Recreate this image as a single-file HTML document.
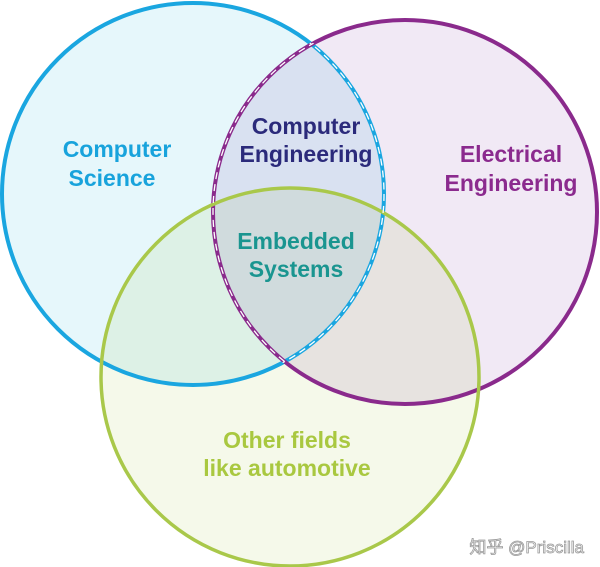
<!DOCTYPE html>
<html><head><style>body{margin:0;background:#fff}svg{display:block}</style></head><body>
<svg width="600" height="567" viewBox="0 0 600 567" xmlns="http://www.w3.org/2000/svg" font-family="Liberation Sans, sans-serif" font-weight="bold">
<defs>
<clipPath id="cs"><circle cx="193" cy="194" r="193"/></clipPath>
<clipPath id="ee"><circle cx="405" cy="212" r="194"/></clipPath>
</defs>
<rect width="600" height="567" fill="#fff"/>
<g>
<circle cx="193" cy="194" r="191" fill="#e6f7fb" style="mix-blend-mode:multiply"/>
<circle cx="405" cy="212" r="192" fill="#f1e9f5" style="mix-blend-mode:multiply"/>
<circle cx="290" cy="377" r="189" fill="#f5f9ea" style="mix-blend-mode:multiply"/>
</g>
<circle cx="193" cy="194" r="191" fill="none" stroke="#1aa6e0" stroke-width="4"/>
<circle cx="405" cy="212" r="192" fill="none" stroke="#8a2a8c" stroke-width="4"/>
<circle cx="290" cy="377" r="189" fill="none" stroke="#a9c84a" stroke-width="3.5"/>
<g clip-path="url(#ee)"><circle cx="193" cy="194" r="191" fill="none" stroke="#fff" stroke-width="1.3" stroke-dasharray="7 5"/></g>
<g clip-path="url(#cs)"><circle cx="405" cy="212" r="192" fill="none" stroke="#fff" stroke-width="1.3" stroke-dasharray="7 5"/></g>
<g font-size="23" text-anchor="middle">
<text x="117" y="157" fill="#18a3dc">Computer</text>
<text x="112" y="186" fill="#18a3dc">Science</text>
<text x="306" y="134" fill="#2b2a7b">Computer</text>
<text x="306" y="162" fill="#2b2a7b">Engineering</text>
<text x="511" y="162" fill="#8b2a8e">Electrical</text>
<text x="511" y="191" fill="#8b2a8e">Engineering</text>
<text x="296" y="249" fill="#1a9590">Embedded</text>
<text x="296" y="277" fill="#1a9590">Systems</text>
<text x="287" y="448" fill="#a9c840">Other fields</text>
<text x="287" y="476" fill="#a9c840">like automotive</text>
</g>
<text x="584" y="553" font-size="17" font-weight="normal" text-anchor="end" fill="#fff" stroke="#999" stroke-width="0.8" font-family="Liberation Sans, Noto Sans CJK SC, sans-serif">知乎 @Priscilla</text>
</svg>
</body></html>
